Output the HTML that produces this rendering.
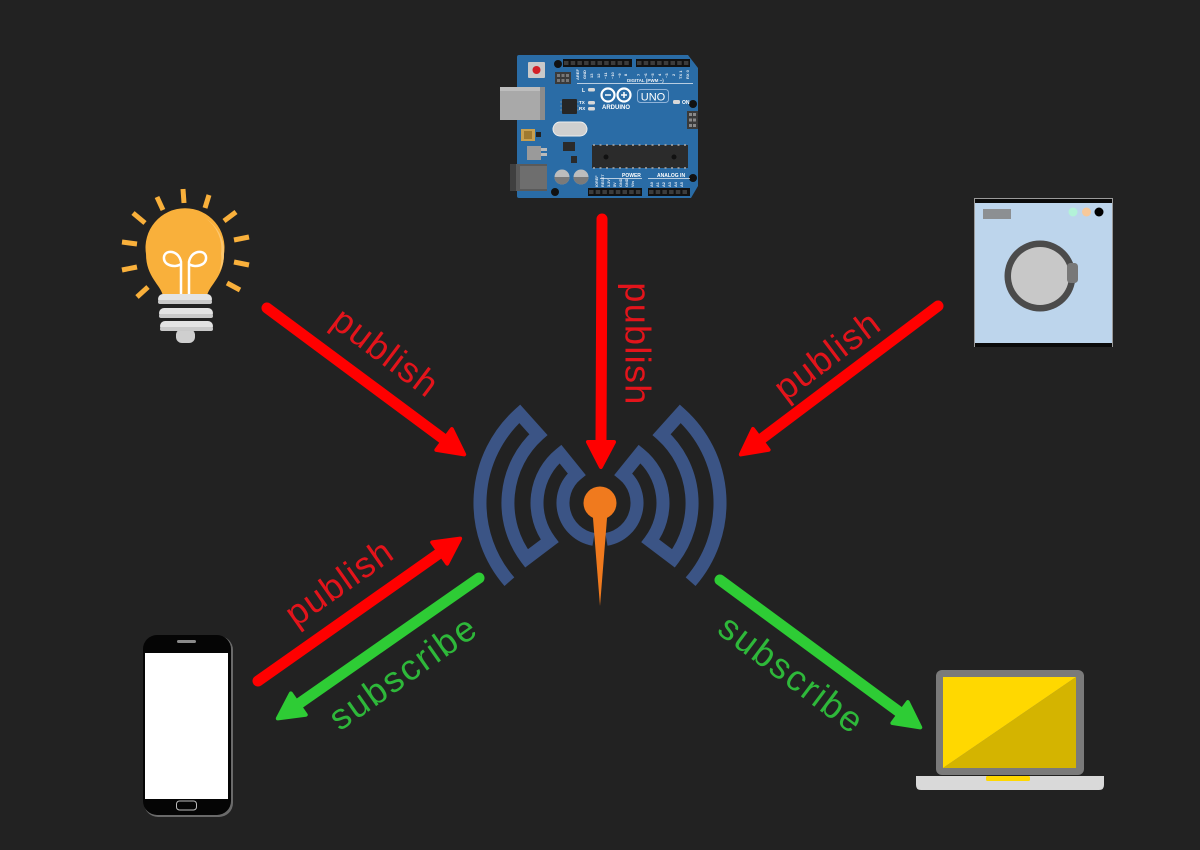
<!DOCTYPE html>
<html>
<head>
<meta charset="utf-8">
<style>
html,body{margin:0;padding:0;background:#222222;}
svg{display:block;}
text{font-family:"Liberation Sans",sans-serif;}
</style>
</head>
<body>
<svg width="1200" height="850" viewBox="0 0 1200 850" xmlns="http://www.w3.org/2000/svg">
<defs>
  <marker id="hr" markerUnits="userSpaceOnUse" markerWidth="40" markerHeight="40" viewBox="-5 -20 40 40" refX="0" refY="0" orient="auto" overflow="visible">
    <path d="M0,-13 L25,0 L0,13 Z" fill="#ff0000" stroke="#ff0000" stroke-width="4" stroke-linejoin="round"/>
  </marker>
  <marker id="hg" markerUnits="userSpaceOnUse" markerWidth="40" markerHeight="40" viewBox="-5 -20 40 40" refX="0" refY="0" orient="auto" overflow="visible">
    <path d="M0,-13 L25,0 L0,13 Z" fill="#2ecc35" stroke="#2ecc35" stroke-width="4" stroke-linejoin="round"/>
  </marker>
</defs>
<rect width="1200" height="850" fill="#222222"/>

<!-- ============ ARDUINO ============ -->
<g>
  <path d="M519,55 L688,55 L698,68 L698,186 L691,198 L519,198 Q517,198 517,196 L517,57 Q517,55 519,55 Z" fill="#2a6ca6"/>
  <!-- USB -->
  <rect x="500" y="87" width="45" height="33" fill="#a9a9a9"/>
  <rect x="500" y="87" width="45" height="4" fill="#bdbdbd"/>
  <rect x="540" y="87" width="5" height="33" fill="#8c8c8c"/>
  <!-- power jack -->
  <rect x="510" y="164" width="37" height="27" fill="#5a5a5a"/>
  <rect x="520" y="166" width="27" height="23" fill="#6e6e6e"/>
  <rect x="510" y="164" width="6" height="27" fill="#3f3f3f"/>
  <!-- regulator -->
  <rect x="527" y="146" width="14" height="14" fill="#9a9a9a"/>
  <rect x="541" y="148" width="6" height="3" fill="#bbb"/>
  <rect x="541" y="153" width="6" height="3" fill="#bbb"/>
  <!-- yellow cap -->
  <rect x="521" y="129" width="14" height="12" fill="#c8a050"/>
  <rect x="524" y="131" width="8" height="8" fill="#a07a30"/>
  <rect x="536" y="132" width="5" height="5" fill="#222"/>
  <!-- reset button -->
  <rect x="528" y="62" width="17" height="16" rx="1" fill="#c9c9c9"/>
  <circle cx="536.5" cy="70" r="4" fill="#d21f26"/>
  <!-- ICSP near reset -->
  <rect x="555" y="72" width="16" height="12" fill="#3a3a3a"/>
  <g fill="#777"><rect x="557" y="74" width="3" height="3"/><rect x="561.5" y="74" width="3" height="3"/><rect x="566" y="74" width="3" height="3"/><rect x="557" y="79" width="3" height="3"/><rect x="561.5" y="79" width="3" height="3"/><rect x="566" y="79" width="3" height="3"/></g>
  <!-- mounting holes -->
  <circle cx="558" cy="64" r="4" fill="#111"/>
  <circle cx="693" cy="104" r="4" fill="#111"/>
  <circle cx="693" cy="178" r="4" fill="#111"/>
  <circle cx="555" cy="192" r="4" fill="#111"/>
  <!-- headers top -->
  <rect x="563" y="59" width="69" height="8" fill="#111"/>
  <line x1="564" y1="63" x2="631" y2="63" stroke="#3c3c3c" stroke-width="4" stroke-dasharray="4.5 2.2"/>
  <rect x="636" y="59" width="54" height="8" fill="#111"/>
  <line x1="637" y1="63" x2="689" y2="63" stroke="#3c3c3c" stroke-width="4" stroke-dasharray="4.5 2.2"/>
  <!-- headers bottom -->
  <rect x="588" y="188" width="54" height="8" fill="#111"/>
  <line x1="589" y1="192" x2="641" y2="192" stroke="#3c3c3c" stroke-width="4" stroke-dasharray="4.5 2.2"/>
  <rect x="648" y="188" width="42" height="8" fill="#111"/>
  <line x1="649" y1="192" x2="689" y2="192" stroke="#3c3c3c" stroke-width="4" stroke-dasharray="4.5 2.2"/>
  <!-- ICSP right -->
  <rect x="687" y="111" width="11" height="18" fill="#3a3a3a"/>
  <g fill="#888"><rect x="689" y="113" width="3" height="3"/><rect x="693" y="113" width="3" height="3"/><rect x="689" y="118.5" width="3" height="3"/><rect x="693" y="118.5" width="3" height="3"/><rect x="689" y="124" width="3" height="3"/><rect x="693" y="124" width="3" height="3"/></g>
  <!-- pin label strip -->
  <g fill="#e8eef5" font-size="4" font-weight="bold">
    <text x="579" y="80" transform="rotate(-90 579 80)">AREF</text>
    <text x="586" y="79" transform="rotate(-90 586 79)">GND</text>
    <text x="593" y="78" transform="rotate(-90 593 78)">13</text>
    <text x="600" y="78" transform="rotate(-90 600 78)">12</text>
    <text x="607" y="79" transform="rotate(-90 607 79)">~11</text>
    <text x="614" y="79" transform="rotate(-90 614 79)">~10</text>
    <text x="621" y="78" transform="rotate(-90 621 78)">~9</text>
    <text x="627" y="76" transform="rotate(-90 627 76)">8</text>
    <text x="640" y="76" transform="rotate(-90 640 76)">7</text>
    <text x="647" y="78" transform="rotate(-90 647 78)">~6</text>
    <text x="654" y="78" transform="rotate(-90 654 78)">~5</text>
    <text x="661" y="76" transform="rotate(-90 661 76)">4</text>
    <text x="668" y="78" transform="rotate(-90 668 78)">~3</text>
    <text x="675" y="76" transform="rotate(-90 675 76)">2</text>
    <text x="682" y="79" transform="rotate(-90 682 79)">TX 1</text>
    <text x="689" y="79" transform="rotate(-90 689 79)">RX 0</text>
  </g>
  <line x1="577" y1="83.5" x2="693" y2="83.5" stroke="#e8eef5" stroke-width="0.8"/>
  <text x="627" y="82" font-size="4.5" font-weight="bold" fill="#e8eef5">DIGITAL (PWM ~)</text>
  <!-- LEDs -->
  <rect x="588" y="88" width="7" height="3.5" rx="1.5" fill="#d8d8d8"/>
  <text x="582" y="92" font-size="5" fill="#fff" font-weight="bold">L</text>
  <rect x="588" y="101" width="7" height="3.5" rx="1.5" fill="#d8d8d8"/>
  <rect x="588" y="107" width="7" height="3.5" rx="1.5" fill="#d8d8d8"/>
  <text x="579" y="104" font-size="4.5" fill="#fff" font-weight="bold">TX</text>
  <text x="579" y="110" font-size="4.5" fill="#fff" font-weight="bold">RX</text>
  <rect x="673" y="100" width="7" height="4" rx="1.5" fill="#d8d8d8"/>
  <text x="682" y="104" font-size="5" fill="#fff" font-weight="bold">ON</text>
  <!-- logo -->
  <circle cx="608" cy="95" r="6.5" fill="none" stroke="#fff" stroke-width="2.2"/>
  <circle cx="624" cy="95" r="6.5" fill="none" stroke="#fff" stroke-width="2.2"/>
  <line x1="605" y1="95" x2="611" y2="95" stroke="#fff" stroke-width="1.5"/>
  <line x1="621" y1="95" x2="627" y2="95" stroke="#fff" stroke-width="1.5"/>
  <line x1="624" y1="92" x2="624" y2="98" stroke="#fff" stroke-width="1.5"/>
  <text x="616" y="109" font-size="6" font-weight="bold" fill="#fff" text-anchor="middle">ARDUINO</text>
  <rect x="637.5" y="89.5" width="31" height="13" rx="3" fill="none" stroke="#8fb3d9" stroke-width="1"/>
  <text x="653" y="100.5" font-size="11" fill="#fff" text-anchor="middle">UNO</text>
  <!-- chip small -->
  <rect x="562" y="99" width="15" height="15" rx="1" fill="#262626"/>
  <g stroke="#999" stroke-width="0.6">
    <line x1="560" y1="102" x2="562" y2="102"/><line x1="560" y1="106" x2="562" y2="106"/><line x1="560" y1="110" x2="562" y2="110"/>
    <line x1="577" y1="102" x2="579" y2="102"/><line x1="577" y1="106" x2="579" y2="106"/><line x1="577" y1="110" x2="579" y2="110"/>
  </g>
  <!-- crystal -->
  <rect x="553" y="122" width="34" height="14" rx="7" fill="#cfcfcf" stroke="#eee" stroke-width="1"/>
  <!-- small components -->
  <rect x="563" y="142" width="12" height="9" fill="#2a2a2a"/>
  <rect x="571" y="156" width="6" height="7" fill="#2a2a2a"/>
  <!-- big chip -->
  <rect x="592" y="145" width="96" height="23" fill="#2b2b2b"/>
  <line x1="593" y1="145" x2="687" y2="145" stroke="#aaa" stroke-width="1.5" stroke-dasharray="2 4.5"/>
  <line x1="593" y1="168" x2="687" y2="168" stroke="#aaa" stroke-width="1.5" stroke-dasharray="2 4.5"/>
  <circle cx="606" cy="157" r="2.5" fill="#111"/>
  <circle cx="674" cy="157" r="2.5" fill="#111"/>
  <!-- caps -->
  <circle cx="562" cy="177" r="7.5" fill="#bdbdbd"/>
  <path d="M554.5,177 A7.5,7.5 0 0 0 569.5,177 Z" fill="#7a7a7a"/>
  <circle cx="581" cy="177" r="7.5" fill="#bdbdbd"/>
  <path d="M573.5,177 A7.5,7.5 0 0 0 588.5,177 Z" fill="#7a7a7a"/>
  <!-- power / analog labels -->
  <text x="622" y="177" font-size="5" font-weight="bold" fill="#fff">POWER</text>
  <line x1="600" y1="178.5" x2="642" y2="178.5" stroke="#e8eef5" stroke-width="0.7"/>
  <text x="657" y="177" font-size="5" font-weight="bold" fill="#fff">ANALOG IN</text>
  <line x1="648" y1="178.5" x2="690" y2="178.5" stroke="#e8eef5" stroke-width="0.7"/>
  <g fill="#e8eef5" font-size="3.8" font-weight="bold">
    <text x="598" y="187" transform="rotate(-90 598 187)">IOREF</text>
    <text x="604" y="187" transform="rotate(-90 604 187)">RESET</text>
    <text x="610" y="187" transform="rotate(-90 610 187)">3.3V</text>
    <text x="616" y="187" transform="rotate(-90 616 187)">5V</text>
    <text x="622" y="187" transform="rotate(-90 622 187)">GND</text>
    <text x="628" y="187" transform="rotate(-90 628 187)">GND</text>
    <text x="634" y="187" transform="rotate(-90 634 187)">Vin</text>
    <text x="653" y="187" transform="rotate(-90 653 187)">A0</text>
    <text x="659" y="187" transform="rotate(-90 659 187)">A1</text>
    <text x="665" y="187" transform="rotate(-90 665 187)">A2</text>
    <text x="671" y="187" transform="rotate(-90 671 187)">A3</text>
    <text x="677" y="187" transform="rotate(-90 677 187)">A4</text>
    <text x="683" y="187" transform="rotate(-90 683 187)">A5</text>
  </g>
</g>

<!-- ============ LIGHT BULB ============ -->
<g>
  <g stroke="#f9b03b" stroke-width="5" stroke-linecap="butt">
    <line x1="183" y1="189" x2="184" y2="203"/>
    <line x1="157" y1="197" x2="163" y2="210"/>
    <line x1="209" y1="195" x2="205" y2="208"/>
    <line x1="133" y1="213" x2="145" y2="223"/>
    <line x1="224" y1="221" x2="236" y2="212"/>
    <line x1="122" y1="242" x2="137" y2="244"/>
    <line x1="234" y1="240" x2="249" y2="237"/>
    <line x1="122" y1="270" x2="137" y2="267"/>
    <line x1="234" y1="262" x2="249" y2="265"/>
    <line x1="137" y1="297" x2="148" y2="287"/>
    <line x1="227" y1="283" x2="240" y2="290"/>
  </g>
  <path d="M163,296 C161,285 146,277 146,254 A39.5,39.5 0 1 1 224,254 C224,277 209,285 207,296 Z" fill="#f9b03b"/>
  <path d="M205,218 A39.5,39.5 0 0 1 224,254 C224,262 222,268 219,272 C221,266 222,260 221,254 A37,37 0 0 0 205,218 Z" fill="#fcc66e"/>
  <!-- filament -->
  <g fill="none" stroke="#fff" stroke-width="2.5" stroke-linecap="round">
    <path d="M181,295 L181,264 C176,268 163,266 164,257 C165,249 179,250 181,262"/>
    <path d="M189,295 L189,264 C194,268 207,266 206,257 C205,249 191,250 189,262"/>
  </g>
  <!-- base -->
  <rect x="176" y="329" width="19" height="14" rx="6" fill="#cfcfcf"/>
  <rect x="158" y="294" width="54" height="10" rx="5" fill="#e3e3e3"/>
  <rect x="158" y="300" width="54" height="4" rx="2" fill="#c9c9c9"/>
  <rect x="159" y="308" width="54" height="10" rx="5" fill="#e3e3e3"/>
  <rect x="159" y="314" width="54" height="4" rx="2" fill="#c9c9c9"/>
  <rect x="160" y="321" width="53" height="10" rx="5" fill="#e3e3e3"/>
  <rect x="160" y="327" width="53" height="4" rx="2" fill="#c9c9c9"/>
</g>

<!-- ============ WASHER ============ -->
<g>
  <rect x="974.5" y="198.5" width="138" height="148" fill="#bdd5ec" stroke="#9a9a9a" stroke-width="1"/>
  <rect x="975" y="199" width="137" height="4" fill="#0a0a0a"/>
  <rect x="975" y="343" width="137" height="4" fill="#0a0a0a"/>
  <rect x="983" y="209" width="28" height="10" fill="#8c8f92"/>
  <circle cx="1073" cy="212" r="4.5" fill="#b3f2d8"/>
  <circle cx="1086.5" cy="212" r="4.5" fill="#f7c99b"/>
  <circle cx="1099" cy="212" r="4.5" fill="#000"/>
  <circle cx="1040" cy="276" r="35.5" fill="#4b4b4b"/>
  <circle cx="1040" cy="276" r="29" fill="#c8c8c8"/>
  <rect x="1067" y="263" width="11" height="20" rx="3.5" fill="#787878"/>
</g>

<!-- ============ PHONE ============ -->
<g>
  <rect x="144" y="636" width="89" height="181" rx="14" fill="#6a6a6a"/>
  <rect x="143" y="635" width="88" height="180" rx="14" fill="#050505"/>
  <rect x="145" y="653" width="83" height="146" fill="#ffffff"/>
  <rect x="177" y="640" width="19" height="3" rx="1.5" fill="#8a8a8a"/>
  <rect x="176.5" y="801" width="20" height="9" rx="3" fill="none" stroke="#bdbdbd" stroke-width="1"/>
</g>

<!-- ============ LAPTOP ============ -->
<g>
  <rect x="936" y="670" width="148" height="105" rx="6" fill="#7a7a7a"/>
  <polygon points="943,677 1076,677 943,768" fill="#ffd800"/>
  <polygon points="1076,677 1076,768 943,768" fill="#d4b400"/>
  <path d="M916,776 L1104,776 L1104,785 Q1104,790 1099,790 L921,790 Q916,790 916,785 Z" fill="#d9d9d9"/>
  <rect x="986" y="776" width="44" height="5" rx="1.5" fill="#ffd800"/>
</g>

<!-- ============ BROKER ICON ============ -->
<g fill="none" stroke="#3b5485" stroke-width="13" stroke-linejoin="miter">
  <path id="wl" d="M593.6,539.4 A37,37 0 0 1 576.7,474.2 L560.4,454.0 A63,63 0 0 0 549.7,540.9 L526.5,558.4 A92,92 0 0 1 538.4,434.6 L519.7,413.8 A120,120 0 0 0 509.4,581.7"/>
  <path d="M593.6,539.4 A37,37 0 0 1 576.7,474.2 L560.4,454.0 A63,63 0 0 0 549.7,540.9 L526.5,558.4 A92,92 0 0 1 538.4,434.6 L519.7,413.8 A120,120 0 0 0 509.4,581.7" transform="translate(1200,0) scale(-1,1)"/>
</g>
<polygon points="592.5,512 600,606 607.5,512" fill="#f07a1e"/>
<circle cx="600" cy="503" r="16.5" fill="#f07a1e"/>

<!-- ============ ARROWS ============ -->
<g stroke-width="11" stroke-linecap="round" fill="none">
  <line x1="267" y1="308" x2="444.1" y2="439.5" stroke="#ff0000" marker-end="url(#hr)"/>
  <line x1="602" y1="219" x2="601" y2="442" stroke="#ff0000" marker-end="url(#hr)"/>
  <line x1="938" y1="306" x2="760.8" y2="439.4" stroke="#ff0000" marker-end="url(#hr)"/>
  <line x1="258" y1="681" x2="439.7" y2="553" stroke="#ff0000" marker-end="url(#hr)"/>
  <line x1="479" y1="578" x2="298.3" y2="704.1" stroke="#2ecc35" marker-end="url(#hg)"/>
  <line x1="720" y1="580" x2="900.1" y2="712.6" stroke="#2ecc35" marker-end="url(#hg)"/>
</g>

<!-- ============ LABELS ============ -->
<g font-size="36" text-anchor="middle" dominant-baseline="central" letter-spacing="1.3">
  <text x="386" y="352" fill="#e3141b" transform="rotate(37 386 352)">publish</text>
  <text x="638" y="344" fill="#e3141b" transform="rotate(90 638 344)">publish</text>
  <text x="827" y="355" fill="#e3141b" transform="rotate(-37 827 355)">publish</text>
  <text x="339" y="582" fill="#e3141b" transform="rotate(-35 339 582)">publish</text>
  <text x="403" y="672" fill="#2eb83a" letter-spacing="2" transform="rotate(-35 403 672)">subscribe</text>
  <text x="792" y="674" fill="#2eb83a" letter-spacing="2" transform="rotate(37 792 674)">subscribe</text>
</g>
</svg>
</body>
</html>
